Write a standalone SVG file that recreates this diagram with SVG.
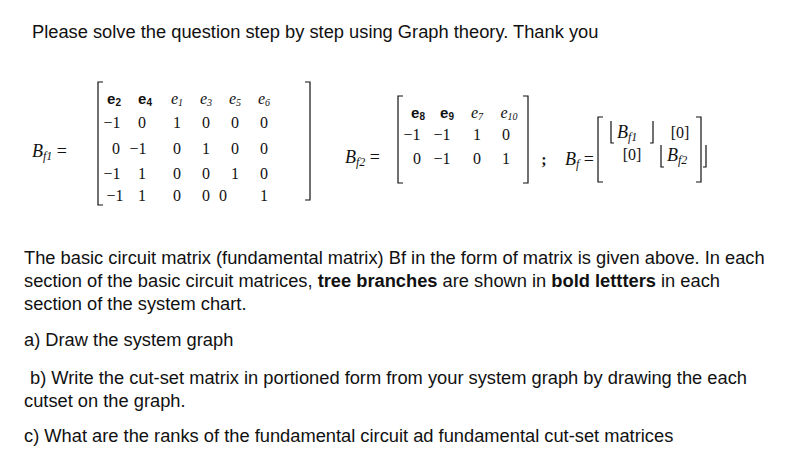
<svg xmlns="http://www.w3.org/2000/svg" width="785" height="469" viewBox="0 0 785 469">
<style>
.t{font-family:"Liberation Sans",Arial,sans-serif;font-size:18.3px;fill:#111}
.m{font-family:"Liberation Serif","Times New Roman",serif;font-size:16px;fill:#111;text-anchor:middle}
.l{font-family:"Liberation Serif","Times New Roman",serif;font-size:18px;fill:#111;font-style:italic}
.b{font-family:"Liberation Sans",Arial,sans-serif;font-weight:bold;font-size:15px;fill:#111;text-anchor:middle}
.i{font-style:italic}
.br{fill:none;stroke:#111;stroke-width:1.2}
</style>
<rect width="785" height="469" fill="#fff"/>
<text class="t" x="32" y="38">Please solve the question step by step using Graph theory. Thank you</text>
<g id="bf1">
<text class="l" x="32" y="157">B<tspan font-size="12" dy="3">f1</tspan><tspan dy="-3" font-style="normal"> =</tspan></text>
<path class="br" d="M103,82 H98 V205 H103 M305,82 H310 V200 H305"/>
<text class="b" x="114" y="104">e<tspan font-size="10" dy="2">2</tspan></text>
<text class="b" x="145" y="104">e<tspan font-size="10" dy="2">4</tspan></text>
<text class="m i" x="177" y="104">e<tspan font-size="10" dy="2">1</tspan></text>
<text class="m i" x="206" y="104">e<tspan font-size="10" dy="2">3</tspan></text>
<text class="m i" x="235" y="104">e<tspan font-size="10" dy="2">5</tspan></text>
<text class="m i" x="264" y="104">e<tspan font-size="10" dy="2">6</tspan></text>
<g class="m">
<text x="112" y="128">−1</text><text x="142" y="128">0</text><text x="177" y="128">1</text><text x="206" y="128">0</text><text x="235" y="128">0</text><text x="264" y="128">0</text>
<text x="116" y="154">0</text><text x="138" y="154">−1</text><text x="177" y="154">0</text><text x="206" y="154">1</text><text x="235" y="154">0</text><text x="264" y="154">0</text>
<text x="112" y="179">−1</text><text x="142" y="179">1</text><text x="177" y="179">0</text><text x="206" y="179">0</text><text x="235" y="179">1</text><text x="264" y="179">0</text>
<text x="115" y="201">−1</text><text x="142" y="201">1</text><text x="177" y="201">0</text><text x="206" y="201">0</text><text x="223" y="201">0</text><text x="264" y="201">1</text>
</g>
</g>
<g id="bf2">
<text class="l" x="345" y="163">B<tspan font-size="12" dy="3">f2</tspan><tspan dy="-3" font-style="normal"> =</tspan></text>
<path class="br" d="M403,96 H398 V183 H403 M523,96 H528 V183 H523"/>
<text class="b" x="418" y="118">e<tspan font-size="10" dy="2">8</tspan></text>
<text class="b" x="447" y="118">e<tspan font-size="10" dy="2">9</tspan></text>
<text class="m i" x="477" y="118">e<tspan font-size="10" dy="2">7</tspan></text>
<text class="m i" x="509" y="118">e<tspan font-size="10" dy="2">10</tspan></text>
<g class="m">
<text x="412" y="140">−1</text><text x="442" y="140">−1</text><text x="477" y="140">1</text><text x="506" y="140">0</text>
<text x="417" y="164">0</text><text x="442" y="164">−1</text><text x="477" y="164">0</text><text x="506" y="164">1</text>
</g>
</g>
<g id="bf">
<text class="m" x="544" y="165" font-weight="bold" font-size="18">;</text>
<text class="l" x="565" y="165">B<tspan font-size="12" dy="3">f</tspan><tspan dy="-3" font-style="normal"> =</tspan></text>
<path class="br" d="M603,117 H598 V182 H603 M696,117 H701 V182 H696"/>
<path class="br" d="M611,121 V143 H614 M653,121 V143 H650 M661,145 V167 H664 M706,145 V167 H703"/>
<text class="l" x="617" y="138">B<tspan font-size="12" dy="3">f1</tspan></text>
<text class="m" x="680" y="138" font-size="17">[0]</text>
<text class="m" x="632" y="160" font-size="17">[0]</text>
<text class="l" x="667" y="161">B<tspan font-size="12" dy="3">f2</tspan></text>
</g>
<g class="t">
<text x="24" y="264">The basic circuit matrix (fundamental matrix) Bf in the form of matrix is given above. In each</text>
<text x="24" y="287">section of the basic circuit matrices, <tspan font-weight="bold">tree branches</tspan> are shown in <tspan font-weight="bold">bold lettters</tspan> in each</text>
<text x="24" y="310">section of the system chart.</text>
<text x="24" y="346">a) Draw the system graph</text>
<text x="30" y="384">b) Write the cut-set matrix in portioned form from your system graph by drawing the each</text>
<text x="24" y="407">cutset on the graph.</text>
<text x="24" y="442">c) What are the ranks of the fundamental circuit ad fundamental cut-set matrices</text>
</g>
</svg>
